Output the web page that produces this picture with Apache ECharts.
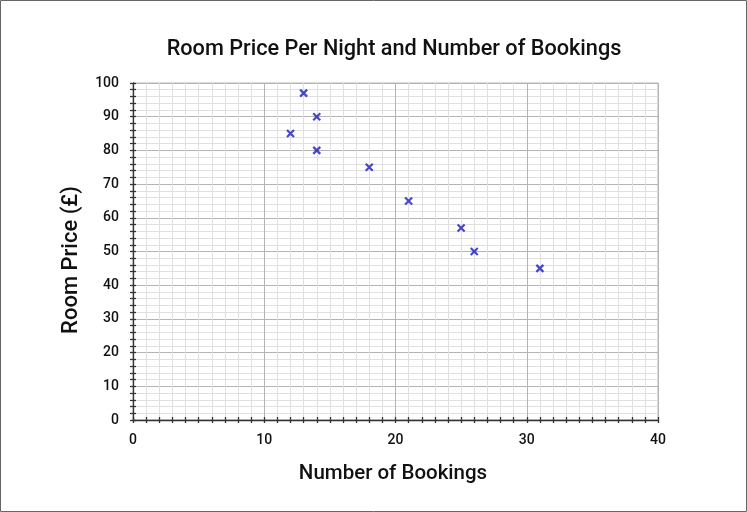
<!DOCTYPE html>
<html><head><meta charset="utf-8">
<script src="https://cdn.jsdelivr.net/npm/echarts@6/dist/echarts.min.js"></script>
<style>html,body{margin:0;padding:0;background:#fff}#c{width:747px;height:512px}</style>
</head><body><div id="c"></div>
<script>
const bookings = [12, 13, 14, 14, 18, 21, 25, 26, 31];
const prices = [85, 97, 90, 80, 75, 65, 57, 50, 45];
const xTicks = [0, 10, 20, 30, 40];
const yTicks = [0, 10, 20, 30, 40, 50, 60, 70, 80, 90, 100];

const points = bookings.map((b, i) => [b, prices[i]]);
const chart = echarts.init(document.getElementById('c'));
const font = 'Roboto, "Noto Sans", sans-serif';
const axisBase = (min, max, interval, splitNum) => ({
  type: 'value', min, max, interval,
  axisLine: { show: true, onZero: false, lineStyle: { color: '#333', width: 1.3 } },
  splitLine: { show: true, lineStyle: { color: '#b4b4b4', width: 1 } },
  minorTick: { show: true, splitNumber: splitNum, length: 3, lineStyle: { color: '#333', width: 1.3 } },
  minorSplitLine: { show: true, lineStyle: { color: '#e0e0e0', width: 1 } },
  axisTick: { show: true, length: 3, lineStyle: { color: '#333', width: 1.3 } }
});
const xMain = Object.assign(axisBase(0, 40, 10, 10), {
  name: 'Number of Bookings', nameLocation: 'middle', nameGap: 43,
  nameTextStyle: { fontFamily: font, fontSize: 20.5, fontWeight: 500, color: '#111', padding: [0, 5, 0, 0] },
  axisLabel: { fontFamily: font, fontSize: 14, fontWeight: 500, color: '#111', margin: 13,
    formatter: v => xTicks.includes(v) ? String(v) : '' }
});
const yMain = Object.assign(axisBase(0, 100, 10, 5), {
  name: 'Room Price (£)', nameLocation: 'middle', nameGap: 51,
  nameTextStyle: { fontFamily: font, fontSize: 22, fontWeight: 500, color: '#111', padding: [0, 0, 0, -17] },
  axisLabel: { fontFamily: font, fontSize: 14, fontWeight: 500, color: '#111', margin: 14,
    formatter: v => yTicks.includes(v) ? String(v) : '' }
});
const overlay = (min, max, interval, splitNum) => ({
  type: 'value', min, max, interval,
  axisLine: { show: false }, splitLine: { show: false }, axisLabel: { show: false },
  axisTick: { show: true, inside: true, length: 3, lineStyle: { color: '#333', width: 1.3 } },
  minorTick: { show: true, splitNumber: splitNum, length: 3, lineStyle: { color: '#333', width: 1.3 } },
  minorSplitLine: { show: false }
});
const xOv = Object.assign(overlay(0, 40, 10, 10), { position: 'bottom' });
const yOv = Object.assign(overlay(0, 100, 10, 5), { position: 'left' });
chart.setOption({
  backgroundColor: '#fff',
  animation: false,
  title: { text: 'Room Price Per Night and Number of Bookings', left: 389, top: 34, textAlign: 'center',
    textStyle: { fontFamily: font, fontSize: 21.7, fontWeight: 500, color: '#111' } },
  grid: { left: 133, right: 89, top: 83, bottom: 92, show: true, borderColor: '#b4b4b4', borderWidth: 1 },
  xAxis: [xMain, xOv],
  yAxis: [yMain, yOv],
  graphic: [{ type: 'rect', shape: { x: 0.5, y: 0.5, width: 746, height: 511 },
    style: { fill: 'none', stroke: '#666', lineWidth: 1 }, z: 100 }],
  series: [{
    type: 'scatter', data: points, xAxisIndex: 0, yAxisIndex: 0,
    symbol: 'path://M0,0L10,10M10,0L0,10', symbolSize: 7,
    itemStyle: { color: 'rgba(0,0,0,0)', borderColor: '#1a1ac0', borderWidth: 2.2 },
    z: 10
  }]
});
</script></body></html>
